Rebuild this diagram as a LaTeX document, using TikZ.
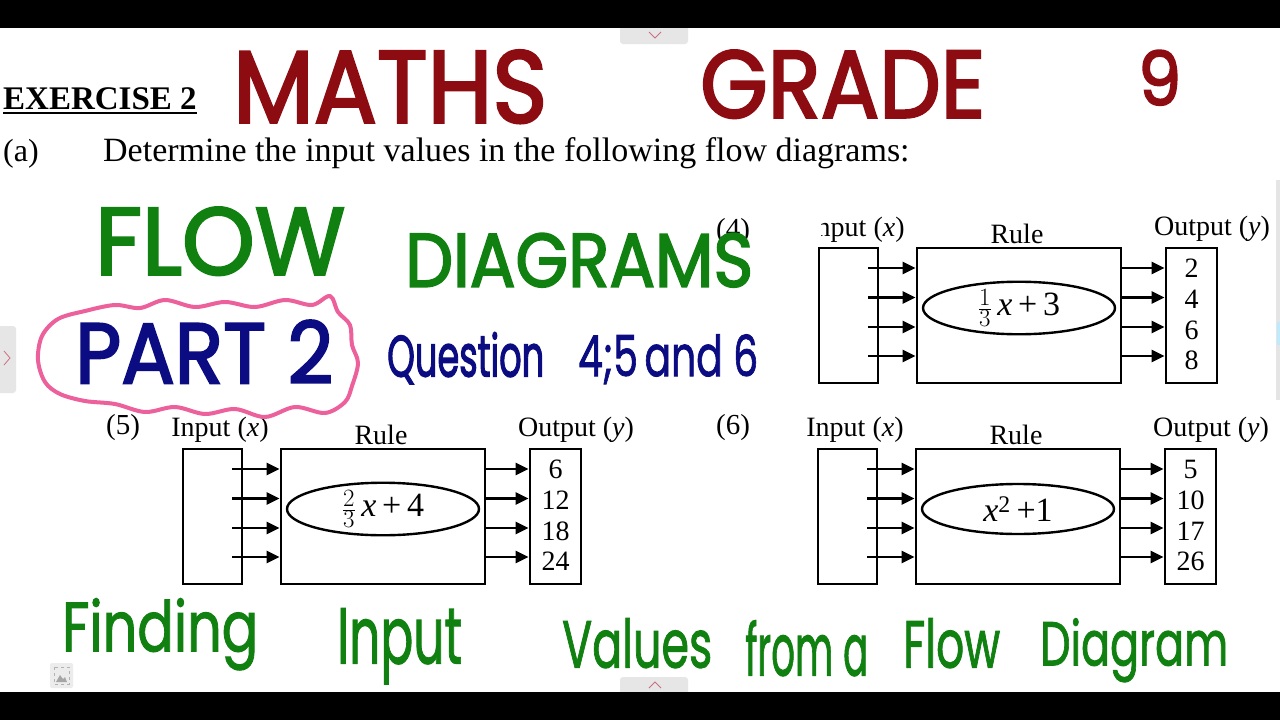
\documentclass[tikz,border=0pt]{standalone}
\usepackage{amsmath}
\usepackage{fontspec}
\setmainfont{Liberation Serif}
\newfontfamily\hand{Poppins}[FakeBold=2.5]
\newfontfamily\handl{Poppins}[FakeBold=1.5]
\usetikzlibrary{arrows.meta,shapes.geometric,calc}
\definecolor{mred}{RGB}{140,12,18}
\definecolor{mgreen}{RGB}{16,128,16}
\definecolor{mnavy}{RGB}{12,12,130}
\definecolor{mpink}{RGB}{236,96,156}
\definecolor{tabgray}{RGB}{230,230,230}
\definecolor{chev}{RGB}{205,110,125}
\tikzset{
  ibox/.style={draw, line width=2.8pt, inner sep=0pt, minimum width=59pt, minimum height=135pt},
  rbox/.style={draw, line width=2.8pt, inner sep=0pt, minimum width=204pt, minimum height=135pt},
  obox/.style={draw, line width=2.8pt, inner sep=0pt, minimum width=51pt, minimum height=135pt},
  ell/.style={draw, ellipse, line width=2.4pt, minimum width=192pt, minimum height=50pt, inner sep=0pt, font=\fontsize{34}{34}\selectfont},
  arr/.style={line width=2.5pt, -{Triangle[length=13pt,width=12pt]}},
  lbl/.style={inner sep=0pt, font=\fontsize{28}{28}\selectfont},
  val/.style={inner sep=0pt, font=\fontsize{28}{28}\selectfont},
  qnum/.style={inner sep=0pt, font=\fontsize{29}{29}\selectfont},
  hw/.style={anchor=north west, inner sep=0pt},
  tab/.style={fill=tabgray, rounded corners=3pt},
  chevron/.style={draw=chev, line width=0.8pt}
}
\newcommand\hwtext[6]{\node[hw, text=#2] (#1) at (#3) {\resizebox*{#4pt}{#5pt}{\hand #6}};}
\newcommand\hwlow[6]{\node[hw, text=#2] (#1) at (#3) {\resizebox*{#4pt}{#5pt}{\handl #6}};}
\newcommand\flowdiag[8]{%
  \begin{scope}[shift={(#2,#3)}]
    \node[ibox] (#1in) at (29.5,67.5) {};
    \node[rbox] (#1rule) at (200,67.5) {};
    \node[obox] (#1out) at (372.5,67.5) {};
    \node[ell] (#1ell) at (200,60) {#4};
    \node[lbl] (#1rl) at (198,-14) {Rule};
    \node[lbl] (#1ol) at (393,-19) {Output (\textit{y})};
    \foreach \yy in {20,49.5,79,108}{
      \draw[arr] ($(#1in.east |- 0,\yy)+(-11,0)$) -- (#1rule.west |- 0,\yy);
      \draw[arr] (#1rule.east |- 0,\yy) -- (#1out.west |- 0,\yy);
    }
    \node[val] (#1v1) at (372.5,20) {#5};
    \node[val] (#1v2) at (372.5,51) {#6};
    \node[val] (#1v3) at (372.5,82) {#7};
    \node[val] (#1v4) at (372.5,112) {#8};
  \end{scope}}
\begin{document}
\begin{tikzpicture}[x=1pt,y=-1pt]
\useasboundingbox (0,0) rectangle (1280,720);
\fill[white] (0,0) rectangle (1280,720);
% UI elements
\fill[tab] (620,20) rectangle (688,44);
\fill[tab] (620,677) rectangle (688,700);
\fill[tab] (-5,326) rectangle (16,393);
\fill[black] (0,0) rectangle (1280,28);
\fill[black] (0,692) rectangle (1280,720);
\draw[chevron] (649,32) -- (655,38) -- (661,32);
\draw[chevron] (649,688) -- (655,682) -- (661,688);
\draw[chevron] (4,351) -- (10,358) -- (4,365);
\fill[gray!15, rounded corners=2pt] (50,663) rectangle (73,688);
\draw[gray!60, line width=0.6pt, dashed] (54,667) rectangle (69,684);
\fill[gray!70] (56,682) -- (60,675) -- (63,679) -- (65,677) -- (67,682) -- cycle;
\fill[gray!20] (1276,180) rectangle (1280,400);
\fill[cyan!25] (1277,322) rectangle (1280,345);

% printed heading
\node[anchor=base west, inner sep=0pt, font=\bfseries\fontsize{33}{33}\selectfont] (ex) at (3,109) {EXERCISE 2};
\draw[line width=2.5pt] ($(ex.base west)+(0,4)$) -- ($(ex.base east)+(0,4)$);
\node[anchor=base west, inner sep=0pt, font=\fontsize{32}{32}\selectfont] (pa) at (3,161) {(a)};
\node[anchor=base west, inner sep=0pt, font=\fontsize{34}{34}\selectfont] (det) at (103,161) {Determine the input values in the following flow diagrams:};

% question numbers
\node[qnum] (q4) at (733,232) {(4)};
\node[qnum] (q5) at (123,428) {(5)};
\node[qnum] (q6) at (733,428) {(6)};

% flow diagrams
\flowdiag{d4}{819}{248}{$\tfrac{1}{3}$\,\textit{x}\,+\,3}{2}{4}{6}{8}
\flowdiag{d5}{183}{449}{$\tfrac{2}{3}$\,\textit{x}\,+\,4}{6}{12}{18}{24}
\flowdiag{d6}{818}{449}{\textit{x}\textsuperscript{2}\,+1}{5}{10}{17}{26}
\begin{scope}
  \clip (821,205) rectangle (915,250);
  \node[lbl] (d4il) at (856,230) {Input (\textit{x})};
\end{scope}
\node[lbl] (d5il) at (220,430) {Input (\textit{x})};
\node[lbl] (d6il) at (855,430) {Input (\textit{x})};

% handwriting
\hwtext{maths}{mred}{233,50}{314}{73}{MATHS}
\hwtext{grade}{mred}{700,50}{285}{68}{GRADE}
\hwtext{nine}{mred}{1138,50}{43}{55}{9}
\hwtext{flow}{mgreen}{95,207}{250}{68}{FLOW}
\hwtext{diagrams}{mgreen}{405,233}{348}{54}{DIAGRAMS}
\draw[mpink, line width=4pt, line join=round] plot[smooth cycle, tension=0.55] coordinates {
  (38,360) (42,336) (58,319) (85,311) (115,305) (140,308) (165,300) (195,307)
  (225,302) (255,307) (285,300) (312,305) (330,296) (338,312) (350,325)
  (352,345) (358,363) (352,386) (345,402) (325,413) (295,407) (265,417)
  (235,409) (205,414) (175,407) (145,412) (115,404) (85,401) (60,394) (45,382)};
\hwtext{part}{mnavy}{75,320}{258}{63}{PART 2}
\hwtext{question}{mnavy}{387,332}{157}{52}{Question}
\hwlow{qnums}{mnavy}{578,334}{180}{50}{4;5\,and 6}
\hwlow{finding}{mgreen}{62,598}{196}{72}{Finding}
\hwlow{input}{mgreen}{337,608}{125}{76}{Input}
\hwlow{values}{mgreen}{562,618}{150}{50}{Values}
\hwlow{froma}{mgreen}{745,620}{123}{56}{from a}
\hwlow{flowb}{mgreen}{903,618}{97}{50}{Flow}
\hwlow{diagram}{mgreen}{1040,618}{188}{64}{Diagram}
\end{tikzpicture}
\end{document}
